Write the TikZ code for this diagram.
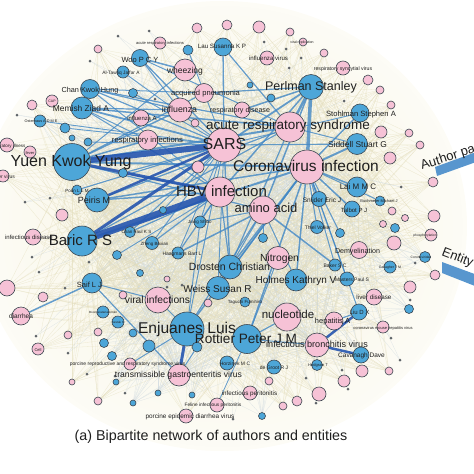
\documentclass[tikz,border=0pt]{standalone}
\usepackage{fontspec}
\setmainfont{Liberation Sans}
\pgfdeclarelayer{shadelayer}
\pgfdeclarelayer{weblayer}
\pgfdeclarelayer{bluelayer}
\pgfsetlayers{shadelayer,weblayer,bluelayer,main}
\definecolor{aublue}{RGB}{77,166,216}
\definecolor{enpink}{RGB}{246,194,214}
\definecolor{ncirc}{RGB}{60,70,80}
\definecolor{webc}{RGB}{196,210,220}
\definecolor{beige}{RGB}{228,222,188}
\definecolor{midblue}{RGB}{66,136,198}
\definecolor{darkblue}{RGB}{38,86,176}
\definecolor{barblue}{RGB}{88,150,206}
\definecolor{cream}{RGB}{250,248,236}
\definecolor{dotc}{RGB}{95,100,105}
\pgfdeclareradialshading{netglow}{\pgfpoint{0bp}{0bp}}{color(0bp)=(cream); color(15bp)=(cream); color(34bp)=(white); color(50bp)=(white)}
\tikzset{
 au/.style={circle, draw=ncirc, line width=0.6pt, fill=aublue, inner sep=0pt},
 en/.style={circle, draw=ncirc, line width=0.6pt, fill=enpink, inner sep=0pt},
 dotn/.style={circle, fill=dotc, inner sep=0pt, minimum size=3pt},
 lab/.style={inner sep=0pt, anchor=base, text=black!88},
 web/.style={draw=webc, line width=0.25pt, opacity=0.55},
 webb/.style={draw=beige, line width=0.3pt, opacity=0.6},
 mb/.style={draw=midblue, line width=#1, opacity=0.8},
 mb/.default=1pt,
 db/.style={draw=darkblue, line width=#1, opacity=0.9},
 db/.default=2pt,
}
\newcommand{\authorlist}{yuen,peiris,baric,perlman,woo,lau,altawfiq,chan,memish,oster,a1,a2,a3,a4,stohl,siddell,lai,snijder,talbot,thiel,buch,drosten,holmes,weiss,enju,rottier,saif,zhang,haag,jiang,chanp,taguchi,masters,baker,cav,liud,degroot,horz,hodg,a5,gall,a6,a7,a8,a9,b1,b2,b3,b4,b5,b6,b7,b8,b9,b10,b11,b12,poon,a10,a11,a12,a13,a14,a15,a16}
\newcommand{\entitylist}{sars,ars,corona,hbv,amino,wheez,influ,pneu,respd,respi,influa,nitro,nucl,viral,tgev,ibv,hepa,demy,cc,liver,ms,hiv,rsv,influv,rsyn,prrsv,fip,ped,diar,cell,infd,infp,chv,fever,cap,e1,ri,ari,e2,e3,e4,e5,e6,e7,e8,e9,e10,e11,e12,e13,e14,e15,e16,e17,e18,e19,e20,e21,e22,e23,e24,e25,e26,e27,e28,e29,e30,e31,e32,e33,e34,e35,e37,e39,e40,e41,e43}
\newcommand{\dotlist}{d1,d2,d3,d4,d5,d6,d7,d8,d9,d10,d11,d12,d13,d14,d15,d16,d17,d18,d19,d20,d21,d22,d23,d24,d25,d26,d27,d28,d29,d30,d31,d32,d34}
\begin{document}
\begin{tikzpicture}[x=1pt,y=-1pt]
\useasboundingbox (0,0) rectangle (474,474);
\begin{pgfonlayer}{shadelayer}
\shade[shading=netglow] (222,226) ellipse [x radius=245pt, y radius=225pt];
\end{pgfonlayer}
% authors
\foreach \nm/\xx/\yy/\dd in {yuen/72/162/37, peiris/97/200/24, baric/82/241/30, perlman/311/87/25, woo/140/58/17, lau/223/47/18, altawfiq/123/72/12, chan/90/89/19, memish/82/108/22, oster/40/121/12, a1/65/128/10, a2/133/93/9, a3/188/50/10, a4/271/98/8, stohl/360/113/18, siddell/357/144/21, lai/357/187/20, snijder/319/199/15, talbot/352/209/16, thiel/317/227/13, buch/380/201/10, drosten/230/267/24, holmes/296/280/22, weiss/218/288/23, enju/187/329/34, rottier/247/339/29, saif/92/283/20, zhang/152/243/13, haag/178/253/12, jiang/200/222/12, chanp/130/232/11, taguchi/245/302/10, masters/347/279/14, baker/335/265/12, cav/361/355/16, liud/359/312/16, degroot/274/367/14, horz/227/363/14, hodg/317/365/11, a5/409/309/9, gall/390/267/12, a6/425/257/11, a7/395/228/9, a8/263/238/9, a9/340/233/9, b1/103/312/12, b2/118/322/12, b3/133/333/8, b4/104/343/9, b5/112/356/9, b6/149/346/12, b7/158/393/6, b8/192/395/6, b9/133/403/6, b10/116/382/6, b11/262/416/7, b12/197/347/10, poon/77/190/10, a10/123/173/9, a11/117/255/9, a12/140/273/7, a13/163/210/7, a14/88/142/8, a15/72/138/6, a16/250/85/6}
  \node[au, minimum size=\dd pt] (\nm) at (\xx,\yy) {};
% entities
\foreach \nm/\xx/\yy/\dd in {sars/224/145/34, ars/290/127/30, corona/307/167/34, hbv/220/192/30, amino/263/210/28, wheez/185/70/22, influ/180/110/24, pneu/204/93/19, respd/242/110/16, respi/148/140/20, influa/141/118/16, nitro/278/258/23, nucl/287/317/28, viral/158/300/26, tgev/179/375/22, ibv/317/345/24, hepa/334/321/18, demy/359/250/17, cc/394/243/14, liver/374/297/16, ms/390/158/12, hiv/381/132/12, rsv/259/27/12, influv/267/58/14, rsyn/343/68/14, prrsv/130/364/12, fip/217/405/14, ped/186/416/14, diar/21/316/18, cell/38/349/12, infd/33/237/16, infp/250/393/14, chv/383/327/12, fever/30/152/12, cap/52/101/12, e1/32/105/10, ri/7/145/14, ari/160/43/12, e2/197/28/10, e3/227/25/10, e4/98/49/8, e5/3/176/12, e6/62/215/12, e7/7/288/16, e8/43/297/10, e9/123/295/8, e10/434/216/12, e11/431/235/12, e12/433/182/10, e13/410/287/12, e14/435/275/10, e15/392/211/8, e16/362/371/12, e17/344/381/12, e18/389/371/8, e19/319/394/14, e20/297/401/10, e21/269/381/8, e22/283/406/8, e23/290/32/8, e24/303/42/8, e25/324/53/8, e26/368/80/10, e27/380/90/8, e28/391/105/8, e29/409/133/8, e30/420/145/8, e31/68/335/8, e32/98/401/8, e33/72/382/6, e34/195/123/8, e35/198/167/12, e37/208/303/8, e39/167/279/6, e40/383/224/7, e41/405/218/7, e43/98/332/8}
  \node[en, minimum size=\dd pt] (\nm) at (\xx,\yy) {};
% small dots
\foreach \nm/\xx/\yy in {d1/118/36, d2/149/31, d3/90/61, d4/155/99, d5/17/115, d6/264/42, d7/286/49, d8/301/58, d9/289/68, d10/344/101, d11/401/187, d12/415/263, d13/391/338, d14/400/360, d15/342/370, d16/306/378, d17/316/403, d18/348/389, d19/36/336, d20/68/353, d21/87/374, d22/115/376, d23/125/393, d24/233/419, d25/50/198, d26/25/202, d27/32/257, d28/39/272, d29/65/288, d30/89/262, d31/167/287, d32/182/285, d34/410/300}
  \node[dotn] (\nm) at (\xx,\yy) {};
% light web of edges
\begin{pgfonlayer}{weblayer}
\foreach \h in {sars,corona,ars,hbv,amino,nitro,nucl,viral,influ,tgev,ibv}
  {\foreach \a in \authorlist {\draw[web] (\h) -- (\a);}}
\foreach \h in {yuen,baric,perlman,enju,rottier,drosten,holmes,weiss,siddell,lai,peiris,saif}
  {\foreach \e in \entitylist {\draw[webb] (\h) -- (\e);}}
\foreach \dn in \dotlist {\draw[web] (sars) -- (\dn); \draw[web] (corona) -- (\dn);}
\end{pgfonlayer}
% blue edges
\begin{pgfonlayer}{bluelayer}
\foreach \p/\q/\w in {sars/chan/1.2, sars/memish/1.8, sars/woo/1.3, sars/altawfiq/0.9, sars/lau/1.3, sars/a1/0.9, sars/a14/0.9, sars/oster/0.9, sars/poon/1.1, sars/a10/1.1, sars/a2/0.9, sars/drosten/1.4, sars/jiang/0.9, sars/zhang/0.9, sars/haag/0.9, sars/chanp/1, sars/perlman/1.8, sars/stohl/0.9, sars/siddell/1.1, sars/weiss/0.9, sars/enju/1, sars/a13/0.9, sars/a3/0.9, hbv/zhang/1.2, hbv/haag/1.2, hbv/jiang/1, hbv/chanp/1.2, hbv/a11/0.9, hbv/memish/1, hbv/chan/1, hbv/drosten/1.2, hbv/a10/1, corona/perlman/3.5, corona/lai/1.5, corona/snijder/1.5, corona/talbot/1.5, corona/siddell/2, corona/stohl/1.5, corona/enju/1.5, corona/rottier/1.5, corona/holmes/1.5, corona/weiss/1.2, corona/drosten/1.5, corona/baker/1, corona/thiel/1, corona/masters/1, corona/a9/1, corona/buch/1, corona/liud/1, corona/baric/2, corona/yuen/2, corona/peiris/1.5, ars/perlman/2.5, ars/memish/1.5, ars/chan/1.2, ars/lau/1.2, ars/drosten/1.2, ars/woo/1, ars/siddell/1, ars/yuen/2, ars/peiris/1.2, ars/baric/1.2, amino/enju/1.2, amino/weiss/1, amino/jiang/1, amino/a8/1, amino/baker/1.5, amino/holmes/1, amino/perlman/1.5, amino/haag/1.5, amino/yuen/1.2, influ/yuen/1.5, influ/woo/1, influ/chan/1.2, influ/memish/1.2, respi/yuen/1.5, respi/memish/1, pneu/yuen/1.2, pneu/chan/1, wheez/woo/1.5, wheez/yuen/1, tgev/saif/1.2, tgev/b12/1, ibv/rottier/1, diar/saif/1.5, viral/saif/1, viral/enju/1, hbv/perlman/1.5, respd/perlman/1.5, pneu/perlman/1.2, jiang/enju/1, nucl/rottier/1.2, nitro/rottier/1, hepa/liud/1.2, prrsv/enju/1, fip/rottier/0.8, hbv/peiris/1.5}
  \draw[mb=\w pt] (\p) -- (\q);
\foreach \p/\q/\w in {yuen/sars/6, baric/hbv/7, baric/sars/3, yuen/hbv/3, peiris/sars/2.5, tgev/enju/3, ibv/cav/2.5, ibv/liud/2.5}
  \draw[db=\w pt] (\p) -- (\q);
\end{pgfonlayer}
% labels
\foreach \nm/\xx/\yy/\sz/\tx in {lyuen/71/166/16/Yuen Kwok Yung, lsars/224.5/149/16/SARS, lars/288/129/13.5/acute respiratory syndrome, lcorona/306/171/15.5/Coronavirus infection, lhbv/221.5/196/15/HBV infection, lamino/266/212/13/amino acid, lbaric/80.5/245/15/Baric R S, lpeiris/94/203/9/Peiris M, lperlman/311/90/12.5/Perlman Stanley, lwoo/140/62/7.5/Woo P C Y, llau/222/48.5/6.2/Lau Susanna K P, laltawfiq/121/74/4.8/Al-Tawfiq Jaffar A, lchan/90/92/7.3/Chan Kwok Hung, lmemish/81/111/8.4/Memish Ziad A, lstohl/361/116/7.6/Stohlman Stephen A, lsiddell/357.5/147/8.4/Siddell Stuart G, llai/358/189.5/8/Lai M M C, lsnijder/322/202/6.5/Snijder Eric J, ltalbot/354/212/6/Talbot P J, ldrosten/229.5/270/10.5/Drosten Christian, lholmes/296/283.5/10/Holmes Kathryn V, lweiss/217.5/292/10/Weiss Susan R, lenju/187/333/15.6/Enjuanes Luis, lrottier/246/343/13.6/Rottier Peter J M, lsaif/89.5/287/7.5/Saif L J, lnitro/279.5/261/10.3/Nitrogen, lnucl/288/318/11.5/nucleotide, lviral/157.5/303/10.3/viral infections, ltgev/178.5/377/8.6/transmissible gastroenteritis virus, libv/317/347/9.1/infectious bronchitis virus, lhepa/332.5/323.5/7.5/hepatitis A, ldemy/357.5/253/7.1/Demyelination, lliver/374/299/6.3/liver disease, lwheez/185/73/8.5/wheezing, linflu/179.5/112.5/8.8/influenza, lpneu/205.5/95/7.6/acquired pneumonia, lrespd/240/112/7.1/respiratory disease, lrespi/147.5/142/7.7/respiratory infections, linflua/142/120/5.9/influenza A, lpoon/77/192/4.5/Poon L L M, lcav/361.5/357.5/6.5/Cavanagh Dave, lliud/359.5/314/6/Liu D X, ldegroot/274/369/5/de Groot R J, lhorz/235/365/5/Horzinek M C, lhodg/318/366.5/4/Hodgson T, ltaguchi/245/303.5/4.5/Taguchi Fumihiro, lmasters/352/281/5/Masters Paul S, lbaker/335/267/5/Baker S C, lthiel/318/229/5/Thiel Volker, lbuch/379/202.5/4/Buchmeier Michael J, ljiang/200/223.5/4.5/Jiang Shibo, lzhang/154.5/245.5/4.5/Zheng Boxian, lhaag/182/255/5/Haagmans Bart L, lchanp/136.5/233.5/4.5/Chan Paul K S, linfd/29/239.5/6/infectious disease, ldiar/21/318.5/6.5/diarrhea, lcell/38/351/4/Cell, lprrsv/127.5/365.5/5/porcine reproductive and respiratory syndrome virus, linfp/249.5/395/6.3/infectious peritonitis, lfip/213/406.5/4.8/Feline infectious peritonitis, lped/190/418/6.4/porcine epidemic diarrhea virus, lchv/383/329/4/coronavirus mouse hepatitis virus, lari/160/44.5/4/acute respiratory infections, linfluv/268.5/60/6.1/influenza virus, lrsyn/343/70/5.2/respiratory syncytial virus, loster/41/122/3.8/Osterhaus A D M E, lri/8/147/4.5/respiratory illness, lfever/30/154/4/fever, lcap/52/102.5/3.5/CAP, lphos/425/236.5/3.3/phosphorylation, lcorv/421/258.5/3.3/Coronaviridae, lgall/390/268.5/3.5/Gallagher T M, lvrep/302/43.5/3.5/viral replication, lb1/103/313.5/3/Boonyaratanakornkit, lb2/118/323.5/3/Sestak K}
  \node[lab, font=\fontsize{\sz}{\sz}\selectfont] (\nm) at (\xx,\yy) {\tx};
\node[lab, anchor=base east, font=\fontsize{5}{5}\selectfont] (lvirus) at (15,178) {Lassa fever virus};
% side bars and part labels
\fill[barblue] (435,167) -- (480,150.6) -- (480,160.6) -- (437,176) -- cycle;
\fill[barblue] (442,262) -- (480,276) -- (480,288) -- (442,273) -- cycle;
\node[lab, anchor=base west, rotate=18, font=\fontsize{13}{13}\selectfont] (authp) at (422,170) {Author part};
\node[lab, anchor=base west, rotate=-21, font=\fontsize{13}{13}\selectfont] (entp) at (441,255) {Entity part};
% caption
\node[lab, font=\fontsize{14.3}{14.3}\selectfont] (caption) at (211,440.5) {(a) Bipartite network of authors and entities};
\end{tikzpicture}
\end{document}
